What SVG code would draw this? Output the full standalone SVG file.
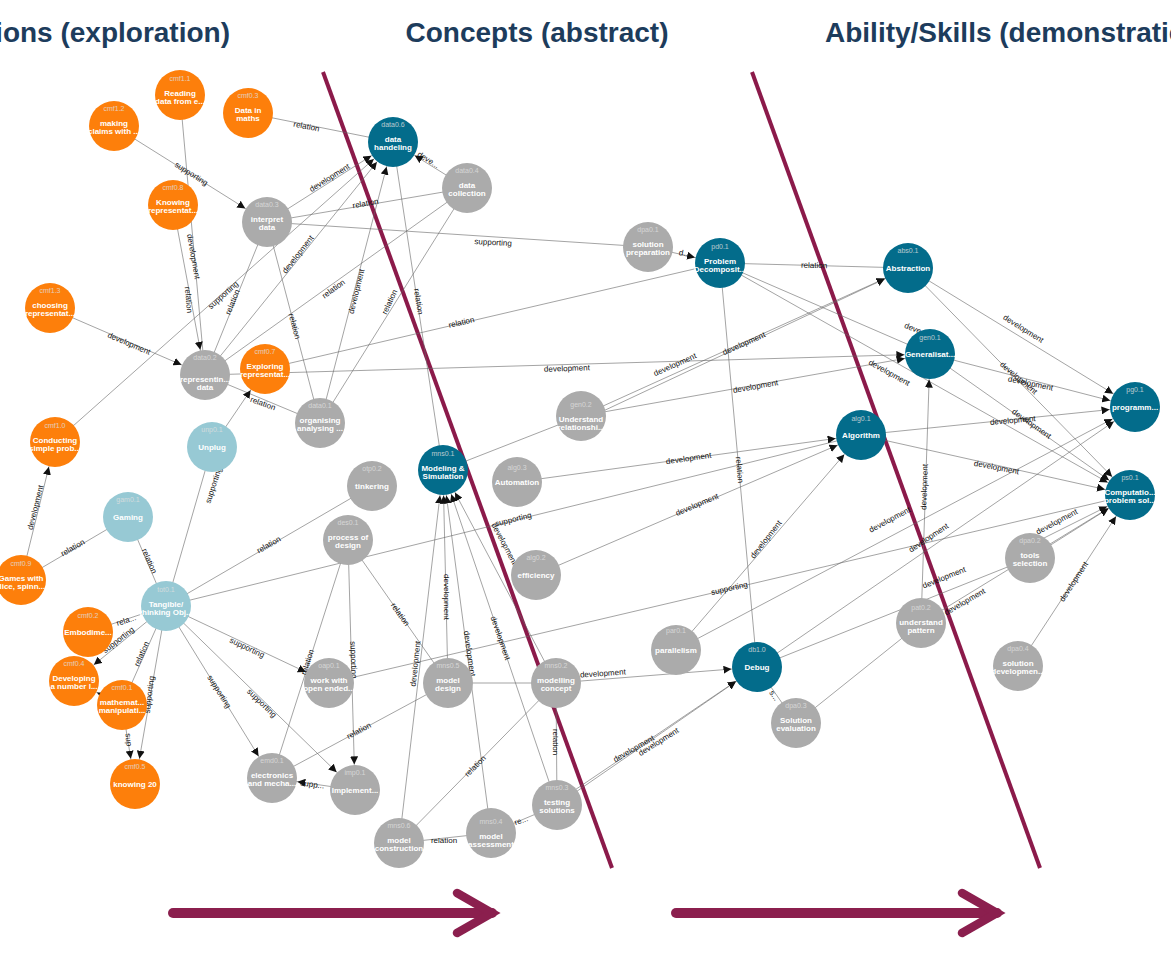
<svg xmlns="http://www.w3.org/2000/svg" width="1171" height="973" viewBox="0 0 1171 973">
<style>
.e{stroke:#666;stroke-width:0.6;fill:none}
.a{marker-end:url(#ar)}
.el{font-family:"Liberation Sans",Arial,sans-serif;font-size:8px;fill:#111;text-anchor:middle}
.o{fill:#fd7f0b}.t{fill:#036c8b}.g{fill:#ababab}.b{fill:#97c9d4}
circle{r:25px}
.id{font-family:"Liberation Sans",Arial,sans-serif;font-size:7px;text-anchor:middle;fill:#e0e0e0;opacity:0.8}
.lb{font-family:"Liberation Sans",Arial,sans-serif;font-size:8px;font-weight:bold;text-anchor:middle;fill:#fff}
.ti{font-family:"Century Gothic","Liberation Sans",Arial,sans-serif;font-size:28px;font-weight:bold;fill:#1d3c5c}
</style>
<defs>
<marker id="ar" viewBox="0 0 10 10" markerWidth="8" markerHeight="8" markerUnits="userSpaceOnUse" refX="42" refY="5" orient="auto"><path d="M0,0L10,5L0,10z" fill="#111"/></marker>
<marker id="bh" viewBox="0 0 10 10" refX="8" refY="5" markerWidth="5" markerHeight="6" orient="auto"><path d="M1,1L8,5L1,9" fill="none" stroke="#8b1f4e" stroke-width="1.7" stroke-linecap="round"/></marker>
</defs>
<rect width="1171" height="973" fill="#fff"/>
<text class="ti" x="230" y="42" text-anchor="end">Questions (exploration)</text>
<text class="ti" x="537" y="42" text-anchor="middle">Concepts (abstract)</text>
<text class="ti" x="825" y="42">Ability/Skills (demonstration)</text>
<g id="dividers" stroke="#8b1a4a" stroke-width="4">
<line x1="323" y1="72" x2="612" y2="868"/>
<line x1="752" y1="72" x2="1040" y2="868"/>
</g>
<g id="flow-arrows" stroke="#8b1f4e" stroke-width="10" stroke-linecap="round" fill="none">
<line x1="173" y1="913" x2="492" y2="913" marker-end="url(#bh)"/>
<line x1="676" y1="913" x2="997" y2="913" marker-end="url(#bh)"/>
</g>
<g id="connectors">
<line class="e" x1="248" y1="113" x2="393" y2="142"/>
<line class="e a" x1="114" y1="126" x2="267" y2="222"/>
<line class="e" x1="180" y1="95" x2="205" y2="375"/>
<line class="e a" x1="173" y1="205" x2="205" y2="375"/>
<line class="e a" x1="50" y1="308" x2="205" y2="375"/>
<line class="e a" x1="55" y1="442" x2="393" y2="142"/>
<line class="e a" x1="267" y1="222" x2="393" y2="142"/>
<line class="e" x1="267" y1="222" x2="467" y2="188"/>
<line class="e" x1="267" y1="222" x2="648" y2="247"/>
<line class="e" x1="205" y1="375" x2="267" y2="222"/>
<line class="e a" x1="205" y1="375" x2="393" y2="142"/>
<line class="e" x1="205" y1="375" x2="467" y2="188"/>
<line class="e" x1="267" y1="222" x2="320" y2="423"/>
<line class="e a" x1="320" y1="423" x2="393" y2="142"/>
<line class="e" x1="320" y1="423" x2="467" y2="188"/>
<line class="e" x1="205" y1="375" x2="320" y2="423"/>
<line class="e" x1="265" y1="369" x2="720" y2="263"/>
<line class="e a" x1="205" y1="375" x2="930" y2="354"/>
<line class="e a" x1="212" y1="447" x2="265" y2="369"/>
<line class="e a" x1="467" y1="188" x2="393" y2="142"/>
<line class="e" x1="393" y1="142" x2="443" y2="470"/>
<line class="e" x1="128" y1="517" x2="21" y2="580"/>
<line class="e a" x1="21" y1="580" x2="55" y2="442"/>
<line class="e" x1="128" y1="517" x2="166" y2="606"/>
<line class="e" x1="166" y1="606" x2="212" y2="447"/>
<line class="e" x1="166" y1="606" x2="88" y2="632"/>
<line class="e a" x1="166" y1="606" x2="74" y2="681"/>
<line class="e" x1="166" y1="606" x2="122" y2="705"/>
<line class="e a" x1="166" y1="606" x2="135" y2="784"/>
<line class="e a" x1="122" y1="705" x2="135" y2="784"/>
<line class="e a" x1="122" y1="705" x2="74" y2="681"/>
<line class="e" x1="166" y1="606" x2="372" y2="486"/>
<line class="e" x1="166" y1="606" x2="861" y2="435"/>
<line class="e a" x1="166" y1="606" x2="329" y2="683"/>
<line class="e a" x1="166" y1="606" x2="272" y2="778"/>
<line class="e a" x1="166" y1="606" x2="355" y2="790"/>
<line class="e" x1="348" y1="540" x2="272" y2="778"/>
<line class="e a" x1="348" y1="540" x2="355" y2="790"/>
<line class="e" x1="348" y1="540" x2="448" y2="683"/>
<line class="e" x1="329" y1="683" x2="1130" y2="495"/>
<line class="e a" x1="355" y1="790" x2="272" y2="778"/>
<line class="e" x1="272" y1="778" x2="448" y2="683"/>
<line class="e a" x1="448" y1="683" x2="443" y2="470"/>
<line class="e a" x1="399" y1="843" x2="443" y2="470"/>
<line class="e a" x1="491" y1="833" x2="443" y2="470"/>
<line class="e a" x1="557" y1="805" x2="443" y2="470"/>
<line class="e a" x1="556" y1="683" x2="443" y2="470"/>
<line class="e" x1="448" y1="683" x2="556" y2="683"/>
<line class="e a" x1="556" y1="683" x2="757" y2="667"/>
<line class="e" x1="556" y1="683" x2="557" y2="805"/>
<line class="e" x1="399" y1="843" x2="556" y2="683"/>
<line class="e" x1="399" y1="843" x2="491" y2="833"/>
<line class="e" x1="491" y1="833" x2="557" y2="805"/>
<line class="e a" x1="557" y1="805" x2="757" y2="667"/>
<line class="e a" x1="560" y1="800" x2="757" y2="667"/>
<line class="e" x1="443" y1="470" x2="581" y2="416"/>
<line class="e a" x1="517" y1="482" x2="861" y2="435"/>
<line class="e a" x1="536" y1="575" x2="861" y2="435"/>
<line class="e a" x1="581" y1="416" x2="908" y2="268"/>
<line class="e a" x1="584" y1="420" x2="908" y2="268"/>
<line class="e a" x1="581" y1="416" x2="930" y2="354"/>
<line class="e a" x1="648" y1="247" x2="720" y2="263"/>
<line class="e" x1="720" y1="263" x2="908" y2="268"/>
<line class="e" x1="720" y1="263" x2="930" y2="354"/>
<line class="e a" x1="720" y1="263" x2="1130" y2="495"/>
<line class="e" x1="720" y1="263" x2="757" y2="667"/>
<line class="e a" x1="908" y1="268" x2="1135" y2="407"/>
<line class="e a" x1="908" y1="268" x2="1130" y2="495"/>
<line class="e a" x1="930" y1="354" x2="1135" y2="407"/>
<line class="e a" x1="930" y1="354" x2="1130" y2="495"/>
<line class="e a" x1="861" y1="435" x2="1135" y2="407"/>
<line class="e a" x1="861" y1="435" x2="1130" y2="495"/>
<line class="e a" x1="676" y1="650" x2="861" y2="435"/>
<line class="e a" x1="676" y1="650" x2="1135" y2="407"/>
<line class="e a" x1="757" y1="667" x2="1135" y2="407"/>
<line class="e" x1="757" y1="667" x2="1030" y2="558"/>
<line class="e" x1="757" y1="667" x2="796" y2="723"/>
<line class="e" x1="796" y1="723" x2="921" y2="623"/>
<line class="e a" x1="921" y1="623" x2="930" y2="354"/>
<line class="e a" x1="921" y1="623" x2="1130" y2="495"/>
<line class="e a" x1="1030" y1="558" x2="1130" y2="495"/>
<line class="e a" x1="1024" y1="548" x2="1130" y2="495"/>
<line class="e a" x1="1018" y1="666" x2="1130" y2="495"/>
</g>
<g id="edge-labels">
<text class="el" transform="translate(306,129) rotate(11)">relation</text>
<text class="el" transform="translate(190,176) rotate(32)">supporting</text>
<text class="el" transform="translate(186,300) rotate(85)">relation</text>
<text class="el" transform="translate(191,257) rotate(80)">development</text>
<text class="el" transform="translate(128,346) rotate(23)">development</text>
<text class="el" transform="translate(225,297) rotate(-42)">supporting</text>
<text class="el" transform="translate(331,180) rotate(-32)">development</text>
<text class="el" transform="translate(366,206) rotate(-10)">relation</text>
<text class="el" transform="translate(493,245) rotate(3)">supporting</text>
<text class="el" transform="translate(235,303) rotate(-68)">relation</text>
<text class="el" transform="translate(300,256) rotate(-52)">development</text>
<text class="el" transform="translate(335,291) rotate(-36)">relation</text>
<text class="el" transform="translate(292,327) rotate(75)">relation</text>
<text class="el" transform="translate(359,292) rotate(-76)">development</text>
<text class="el" transform="translate(392,303) rotate(-65)">relation</text>
<text class="el" transform="translate(262,406) rotate(20)">relation</text>
<text class="el" transform="translate(462,325) rotate(-13)">relation</text>
<text class="el" transform="translate(567,371) rotate(-2)">development</text>
<text class="el" transform="translate(427,162) rotate(32)">deve...</text>
<text class="el" transform="translate(416,302) rotate(81)">relation</text>
<text class="el" transform="translate(74,550) rotate(-30)">relation</text>
<text class="el" transform="translate(38,508) rotate(-76)">development</text>
<text class="el" transform="translate(147,562) rotate(66)">relation</text>
<text class="el" transform="translate(216,486) rotate(-72)">supporting</text>
<text class="el" transform="translate(127,623) rotate(-18)">rela...</text>
<text class="el" transform="translate(120,642) rotate(-38)">supporting</text>
<text class="el" transform="translate(144,655) rotate(-66)">relation</text>
<text class="el" transform="translate(152,695) rotate(-83)">supporting</text>
<text class="el" transform="translate(126,740) rotate(85)">sup</text>
<text class="el" transform="translate(270,547) rotate(-30)">relation</text>
<text class="el" transform="translate(514,522) rotate(-14)">supporting</text>
<text class="el" transform="translate(246,650) rotate(25)">supporting</text>
<text class="el" transform="translate(217,693) rotate(58)">supporting</text>
<text class="el" transform="translate(260,705) rotate(44)">supporting</text>
<text class="el" transform="translate(310,663) rotate(-72)">relation</text>
<text class="el" transform="translate(351,660) rotate(88)">supporting</text>
<text class="el" transform="translate(398,616) rotate(55)">relation</text>
<text class="el" transform="translate(730,591) rotate(-13)">supporting</text>
<text class="el" transform="translate(312,787) rotate(8)">supp...</text>
<text class="el" transform="translate(360,733) rotate(-28)">relation</text>
<text class="el" transform="translate(444,597) rotate(90)">development</text>
<text class="el" transform="translate(418,664) rotate(-84)">development</text>
<text class="el" transform="translate(467,654) rotate(82)">development</text>
<text class="el" transform="translate(498,639) rotate(71)">development</text>
<text class="el" transform="translate(502,545) rotate(62)">development</text>
<text class="el" transform="translate(603,676) rotate(-4)">development</text>
<text class="el" transform="translate(553,742) rotate(90)">relation</text>
<text class="el" transform="translate(477,768) rotate(-45)">relation</text>
<text class="el" transform="translate(444,843) rotate(0)">relation</text>
<text class="el" transform="translate(522,823) rotate(-20)">re...</text>
<text class="el" transform="translate(635,751) rotate(-30)">development</text>
<text class="el" transform="translate(660,744) rotate(-32)">development</text>
<text class="el" transform="translate(689,461) rotate(-8)">development</text>
<text class="el" transform="translate(698,507) rotate(-23)">development</text>
<text class="el" transform="translate(676,367) rotate(-24)">development</text>
<text class="el" transform="translate(745,346) rotate(-24)">development</text>
<text class="el" transform="translate(756,389) rotate(-10)">development</text>
<text class="el" transform="translate(684,256) rotate(10)">d...</text>
<text class="el" transform="translate(814,268) rotate(1)">relation</text>
<text class="el" transform="translate(915,332) rotate(22)">deve...</text>
<text class="el" transform="translate(888,375) rotate(29)">development</text>
<text class="el" transform="translate(737,470) rotate(85)">relation</text>
<text class="el" transform="translate(1022,331) rotate(32)">development</text>
<text class="el" transform="translate(1017,380) rotate(40)">development</text>
<text class="el" transform="translate(1030,386) rotate(12)">development</text>
<text class="el" transform="translate(1030,426) rotate(35)">development</text>
<text class="el" transform="translate(1013,423) rotate(-5)">development</text>
<text class="el" transform="translate(996,470) rotate(11)">development</text>
<text class="el" transform="translate(768,541) rotate(-52)">development</text>
<text class="el" transform="translate(891,522) rotate(-28)">development</text>
<text class="el" transform="translate(930,540) rotate(-34)">development</text>
<text class="el" transform="translate(927,487) rotate(-88)">development</text>
<text class="el" transform="translate(945,580) rotate(-22)">development</text>
<text class="el" transform="translate(966,604) rotate(-30)">development</text>
<text class="el" transform="translate(1058,524) rotate(-28)">development</text>
<text class="el" transform="translate(1076,583) rotate(-57)">development</text>
<text class="el" transform="translate(772,697) rotate(55)">s...</text>
</g>
<g id="n-cmf1.1"><circle class="o" cx="180" cy="95" r="25"/><text class="id" x="180" y="81">cmf1.1</text><text class="lb" x="180" y="96">Reading</text><text class="lb" x="180" y="104">data from e...</text></g>
<g id="n-cmf1.2"><circle class="o" cx="114" cy="126" r="25"/><text class="id" x="114" y="111">cmf1.2</text><text class="lb" x="114" y="126">making</text><text class="lb" x="114" y="134">claims with ...</text></g>
<g id="n-cmf0.3"><circle class="o" cx="248" cy="113" r="25"/><text class="id" x="248" y="98">cmf0.3</text><text class="lb" x="248" y="113">Data in</text><text class="lb" x="248" y="121">maths</text></g>
<g id="n-cmf0.8"><circle class="o" cx="173" cy="205" r="25"/><text class="id" x="173" y="190">cmf0.8</text><text class="lb" x="173" y="205">Knowing</text><text class="lb" x="173" y="213">representat...</text></g>
<g id="n-cmf1.3"><circle class="o" cx="50" cy="308" r="25"/><text class="id" x="50" y="293">cmf1.3</text><text class="lb" x="50" y="308">choosing</text><text class="lb" x="50" y="316">representat...</text></g>
<g id="n-cmf0.7"><circle class="o" cx="265" cy="369" r="25"/><text class="id" x="265" y="354">cmf0.7</text><text class="lb" x="265" y="369">Exploring</text><text class="lb" x="265" y="377">representat...</text></g>
<g id="n-cmf1.0"><circle class="o" cx="55" cy="442" r="25"/><text class="id" x="55" y="428">cmf1.0</text><text class="lb" x="55" y="443">Conducting</text><text class="lb" x="55" y="451">simple prob...</text></g>
<g id="n-cmf0.9"><circle class="o" cx="21" cy="580" r="25"/><text class="id" x="21" y="566">cmf0.9</text><text class="lb" x="21" y="581">Games with</text><text class="lb" x="21" y="589">dice, spinn...</text></g>
<g id="n-cmf0.2"><circle class="o" cx="88" cy="632" r="25"/><text class="id" x="88" y="618">cmf0.2</text><text class="lb" x="88" y="635">Embodime...</text></g>
<g id="n-cmf0.4"><circle class="o" cx="74" cy="681" r="25"/><text class="id" x="74" y="666">cmf0.4</text><text class="lb" x="74" y="681">Developing</text><text class="lb" x="74" y="689">a number l...</text></g>
<g id="n-cmf0.1"><circle class="o" cx="122" cy="705" r="25"/><text class="id" x="122" y="690">cmf0.1</text><text class="lb" x="122" y="705">mathemat...</text><text class="lb" x="122" y="713">manipulati...</text></g>
<g id="n-cmf0.5"><circle class="o" cx="135" cy="784" r="25"/><text class="id" x="135" y="769">cmf0.5</text><text class="lb" x="135" y="787">knowing 20</text></g>
<g id="n-unp0.1"><circle class="b" cx="212" cy="447" r="25"/><text class="id" x="212" y="432">unp0.1</text><text class="lb" x="212" y="450">Unplug</text></g>
<g id="n-gam0.1"><circle class="b" cx="128" cy="517" r="25"/><text class="id" x="128" y="502">gam0.1</text><text class="lb" x="128" y="520">Gaming</text></g>
<g id="n-tot0.1"><circle class="b" cx="166" cy="606" r="25"/><text class="id" x="166" y="592">tot0.1</text><text class="lb" x="166" y="607">Tangible/</text><text class="lb" x="166" y="615">thinking Obj...</text></g>
<g id="n-data0.6"><circle class="t" cx="393" cy="142" r="25"/><text class="id" x="393" y="127">data0.6</text><text class="lb" x="393" y="142">data</text><text class="lb" x="393" y="150">handeling</text></g>
<g id="n-data0.3"><circle class="g" cx="267" cy="222" r="25"/><text class="id" x="267" y="207">data0.3</text><text class="lb" x="267" y="222">interpret</text><text class="lb" x="267" y="230">data</text></g>
<g id="n-data0.4"><circle class="g" cx="467" cy="188" r="25"/><text class="id" x="467" y="173">data0.4</text><text class="lb" x="467" y="188">data</text><text class="lb" x="467" y="196">collection</text></g>
<g id="n-data0.2"><circle class="g" cx="205" cy="375" r="25"/><text class="id" x="205" y="360">data0.2</text><text class="lb" x="205" y="382">representin...</text><text class="lb" x="205" y="390">data</text></g>
<g id="n-data0.1"><circle class="g" cx="320" cy="423" r="25"/><text class="id" x="320" y="408">data0.1</text><text class="lb" x="320" y="423">organising</text><text class="lb" x="320" y="431">analysing ...</text></g>
<g id="n-dpa0.1"><circle class="g" cx="648" cy="247" r="25"/><text class="id" x="648" y="232">dpa0.1</text><text class="lb" x="648" y="247">solution</text><text class="lb" x="648" y="255">preparation</text></g>
<g id="n-pd0.1"><circle class="t" cx="720" cy="263" r="25"/><text class="id" x="720" y="249">pd0.1</text><text class="lb" x="720" y="264">Problem</text><text class="lb" x="720" y="272">Decomposit...</text></g>
<g id="n-gen0.2"><circle class="g" cx="581" cy="416" r="25"/><text class="id" x="581" y="407">gen0.2</text><text class="lb" x="581" y="422">Understand</text><text class="lb" x="581" y="430">relationshi...</text></g>
<g id="n-alg0.3"><circle class="g" cx="517" cy="482" r="25"/><text class="id" x="517" y="470">alg0.3</text><text class="lb" x="517" y="485">Automation</text></g>
<g id="n-alg0.2"><circle class="g" cx="536" cy="575" r="25"/><text class="id" x="536" y="560">alg0.2</text><text class="lb" x="536" y="578">efficiency</text></g>
<g id="n-mns0.1"><circle class="t" cx="443" cy="470" r="25"/><text class="id" x="443" y="456">mns0.1</text><text class="lb" x="443" y="471">Modeling &amp;</text><text class="lb" x="443" y="479">Simulation</text></g>
<g id="n-otp0.2"><circle class="g" cx="372" cy="486" r="25"/><text class="id" x="372" y="471">otp0.2</text><text class="lb" x="372" y="489">tinkering</text></g>
<g id="n-des0.1"><circle class="g" cx="348" cy="540" r="25"/><text class="id" x="348" y="525">des0.1</text><text class="lb" x="348" y="540">process of</text><text class="lb" x="348" y="548">design</text></g>
<g id="n-oap0.1"><circle class="g" cx="329" cy="683" r="25"/><text class="id" x="329" y="668">oap0.1</text><text class="lb" x="329" y="683">work with</text><text class="lb" x="329" y="691">open ended...</text></g>
<g id="n-mns0.5"><circle class="g" cx="448" cy="683" r="25"/><text class="id" x="448" y="668">mns0.5</text><text class="lb" x="448" y="683">model</text><text class="lb" x="448" y="691">design</text></g>
<g id="n-mns0.2"><circle class="g" cx="556" cy="683" r="25"/><text class="id" x="556" y="668">mns0.2</text><text class="lb" x="556" y="683">modelling</text><text class="lb" x="556" y="691">concept</text></g>
<g id="n-emd0.1"><circle class="g" cx="272" cy="778" r="25"/><text class="id" x="272" y="763">emd0.1</text><text class="lb" x="272" y="778">electronics</text><text class="lb" x="272" y="786">and mecha...</text></g>
<g id="n-imp0.1"><circle class="g" cx="355" cy="790" r="25"/><text class="id" x="355" y="775">imp0.1</text><text class="lb" x="355" y="793">Implement...</text></g>
<g id="n-mns0.6"><circle class="g" cx="399" cy="843" r="25"/><text class="id" x="399" y="828">mns0.6</text><text class="lb" x="399" y="843">model</text><text class="lb" x="399" y="851">construction</text></g>
<g id="n-mns0.4"><circle class="g" cx="491" cy="833" r="25"/><text class="id" x="491" y="824">mns0.4</text><text class="lb" x="491" y="839">model</text><text class="lb" x="491" y="847">assessment</text></g>
<g id="n-mns0.3"><circle class="g" cx="557" cy="805" r="25"/><text class="id" x="557" y="790">mns0.3</text><text class="lb" x="557" y="805">testing</text><text class="lb" x="557" y="813">solutions</text></g>
<g id="n-par0.1"><circle class="g" cx="676" cy="650" r="25"/><text class="id" x="676" y="633">par0.1</text><text class="lb" x="676" y="653">parallelism</text></g>
<g id="n-db1.0"><circle class="t" cx="757" cy="667" r="25"/><text class="id" x="757" y="652">db1.0</text><text class="lb" x="757" y="670">Debug</text></g>
<g id="n-dpa0.3"><circle class="g" cx="796" cy="723" r="25"/><text class="id" x="796" y="708">dpa0.3</text><text class="lb" x="796" y="723">Solution</text><text class="lb" x="796" y="731">evaluation</text></g>
<g id="n-pat0.2"><circle class="g" cx="921" cy="623" r="25"/><text class="id" x="921" y="610">pat0.2</text><text class="lb" x="921" y="625">understand</text><text class="lb" x="921" y="633">pattern</text></g>
<g id="n-dpa0.2"><circle class="g" cx="1030" cy="558" r="25"/><text class="id" x="1030" y="543">dpa0.2</text><text class="lb" x="1030" y="558">tools</text><text class="lb" x="1030" y="566">selection</text></g>
<g id="n-dpa0.4"><circle class="g" cx="1018" cy="666" r="25"/><text class="id" x="1018" y="651">dpa0.4</text><text class="lb" x="1018" y="666">solution</text><text class="lb" x="1018" y="674">developmen...</text></g>
<g id="n-abs0.1"><circle class="t" cx="908" cy="268" r="25"/><text class="id" x="908" y="253">abs0.1</text><text class="lb" x="908" y="271">Abstraction</text></g>
<g id="n-gen0.1"><circle class="t" cx="930" cy="354" r="25"/><text class="id" x="930" y="340">gen0.1</text><text class="lb" x="930" y="357">Generalisat...</text></g>
<g id="n-alg0.1"><circle class="t" cx="861" cy="435" r="25"/><text class="id" x="861" y="421">alg0.1</text><text class="lb" x="861" y="438">Algorithm</text></g>
<g id="n-pg0.1"><circle class="t" cx="1135" cy="407" r="25"/><text class="id" x="1135" y="392">pg0.1</text><text class="lb" x="1135" y="410">programm...</text></g>
<g id="n-ps0.1"><circle class="t" cx="1130" cy="495" r="25"/><text class="id" x="1130" y="480">ps0.1</text><text class="lb" x="1130" y="495">Computatio...</text><text class="lb" x="1130" y="503">problem sol...</text></g>
</svg>
